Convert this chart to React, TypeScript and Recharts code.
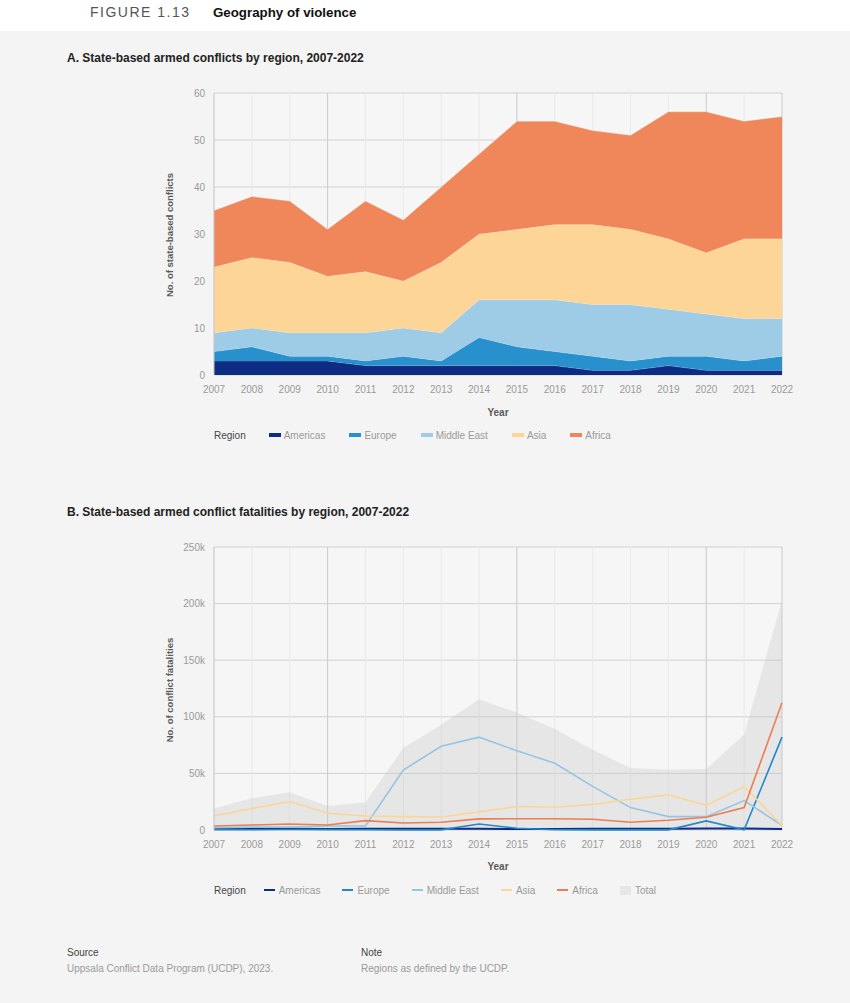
import React from 'react';
import { AreaChart, Area, ComposedChart, Line, XAxis, YAxis, CartesianGrid } from 'recharts';

const FONT = '"Liberation Sans", Arial, Helvetica, sans-serif';

// ---------- Data ----------
const years = ['2007','2008','2009','2010','2011','2012','2013','2014','2015','2016','2017','2018','2019','2020','2021','2022'];

// Panel A: number of state-based conflicts
const americasA = [3,3,3,3,2,2,2,2,2,2,1,1,2,1,1,1];
const europeA = [2,3,1,1,1,2,1,6,4,3,3,2,2,3,2,3];
const middleEastA = [4,4,5,5,6,6,6,8,10,11,11,12,10,9,9,8];
const asiaA = [14,15,15,12,13,10,15,14,15,16,17,16,15,13,17,17];
const africaA = [12,13,13,10,15,13,16,17,23,22,20,20,27,30,25,26];
const ticksA = [0,10,20,30,40,50,60];

// Panel B: fatalities
const americasB = [1200,1100,1000,900,1000,1100,1000,1000,900,900,1000,1100,1200,1300,1400,900];
const europeB = [300,200,500,300,200,0,100,5300,1500,200,100,100,100,8000,100,82000];
const middleEastB = [2000,2500,2700,3600,3600,53000,74000,82000,70000,59000,38500,19800,11800,11800,26000,4100];
const asiaB = [12400,19000,25100,14800,12400,11800,11500,16000,20700,20100,22500,27200,31000,21900,38200,4100];
const africaB = [3600,4400,5300,4400,8300,6200,6800,9800,10000,10000,9500,6800,8600,11200,19800,112400];
const totalB = [19000,28000,33400,21300,24300,72500,93000,115400,103600,89300,71000,54700,53300,53800,84300,202700];
const ticksB = [0,50000,100000,150000,200000,250000];

const regionNames = ['Americas','Europe','Middle East','Asia','Africa'];
const areaColors = ['#0d2c84','#2790cd','#9ecce6','#fdd597','#f0875a'];
const lineColors = ['#0d2c84','#2288c8','#94c6e4','#fcd597','#ee7d4f'];
const totalColor = '#c6c6c6';

const seriesA = [americasA, europeA, middleEastA, asiaA, africaA];
const seriesB = [americasB, europeB, middleEastB, asiaB, africaB];
const keys = ['americas','europe','middleEast','asia','africa'];

const dataA = years.map((y, i) => {
  const row: any = { year: y };
  keys.forEach((k, j) => { row[k] = seriesA[j][i]; });
  return row;
});
const dataB = years.map((y, i) => {
  const row: any = { year: y, total: totalB[i] };
  keys.forEach((k, j) => { row[k] = seriesB[j][i]; });
  return row;
});

const majorYears = ['2010','2015','2020'];
const tickStyle = { fill: '#9a9a9a', fontSize: 10, fontFamily: FONT };

const verticalGrid = (p: any) => {
  const yr = years[p.index];
  const major = majorYears.includes(yr) || yr === '2022';
  return (
    <line
      key={p.key}
      x1={p.x1} y1={p.y1} x2={p.x2} y2={p.y2}
      stroke={major ? '#cacaca' : '#e9e9e9'}
      strokeWidth={1}
    />
  );
};

const YTitle = ({ text, cy }: { text: string; cy: number }) => (
  <div style={{
    position: 'absolute', left: 169, top: cy, transform: 'translate(-50%,-50%) rotate(-90deg)',
    whiteSpace: 'nowrap', fontSize: 9.5, fontWeight: 'bold', color: '#5a5a5a', fontFamily: FONT,
  }}>{text}</div>
);

const XTitle = ({ cy }: { cy: number }) => (
  <div style={{
    position: 'absolute', left: 498, top: cy, transform: 'translate(-50%,-50%)',
    fontSize: 10, fontWeight: 'bold', color: '#5a5a5a', fontFamily: FONT,
  }}>Year</div>
);

const LegendRow = ({ top, kind }: { top: number; kind: 'area' | 'line' }) => {
  const gap = kind === 'area' ? 24 : 22;
  const items = regionNames.map((n, i) => ({ name: n, color: kind === 'area' ? areaColors[i] : lineColors[i], type: kind as string }));
  if (kind === 'line') items.push({ name: 'Total', color: '#e6e6e6', type: 'square' });
  return (
    <div style={{
      position: 'absolute', left: 214, top, display: 'flex', alignItems: 'center',
      fontSize: 10, fontFamily: FONT, color: '#9a9a9a', height: 12,
    }}>
      <span style={{ color: '#444', marginRight: kind === 'area' ? 23 : 18 }}>Region</span>
      {items.map((it, i) => (
        <span key={it.name} style={{ display: 'flex', alignItems: 'center', marginRight: i < items.length - 1 ? gap : 0 }}>
          <span style={{
            display: 'inline-block',
            width: it.type === 'square' ? 11 : (kind === 'area' ? 12 : 11),
            height: it.type === 'square' ? 9 : (kind === 'area' ? 4 : 2),
            background: it.color,
            marginRight: kind === 'area' ? 3 : 4,
          }} />
          <span>{it.name}</span>
        </span>
      ))}
    </div>
  );
};

export default function App() {
  return (
    <div style={{ position: 'relative', width: 850, height: 1003, background: '#f4f4f4', fontFamily: FONT, overflow: 'hidden' }}>
      <style>{`body{margin:0;}`}</style>
      {/* header */}
      <div style={{ position: 'absolute', left: 0, top: 0, width: 850, height: 31, background: '#ffffff' }} />
      <div style={{ position: 'absolute', left: 90, top: 12, transform: 'translateY(-50%)', fontSize: 14, letterSpacing: 1.5, color: '#555', whiteSpace: 'nowrap' }}>FIGURE 1.13</div>
      <div style={{ position: 'absolute', left: 213, top: 12, transform: 'translateY(-50%)', fontSize: 13.3, fontWeight: 'bold', color: '#111', whiteSpace: 'nowrap' }}>Geography of violence</div>

      {/* Panel A */}
      <div style={{ position: 'absolute', left: 67, top: 58, transform: 'translateY(-50%)', fontSize: 12, fontWeight: 'bold', color: '#222', whiteSpace: 'nowrap' }}>A. State-based armed conflicts by region, 2007-2022</div>
      <div style={{ position: 'absolute', left: 0, top: 80 }}>
        <AreaChart width={850} height={340} data={dataA} margin={{ top: 13, right: 68, bottom: 15, left: 164 }}>
          <CartesianGrid stroke="#d2d2d2" fill="#f6f6f6" vertical={verticalGrid} />
          <XAxis dataKey="year" interval={0} tickLine={false} axisLine={false} tick={tickStyle} height={30} tickMargin={5} />
          <YAxis domain={[0, 60]} ticks={ticksA} width={50} tickLine={false} axisLine={{ stroke: '#c6c6c6' }} tick={tickStyle} tickMargin={3} />
          {keys.map((k, j) => (
            <Area key={k} dataKey={k} stackId="a" type="linear" fill={areaColors[j]} fillOpacity={1}
              stroke="#ffffff" strokeWidth={0.6} strokeOpacity={0.5} isAnimationActive={false} />
          ))}
        </AreaChart>
      </div>
      <YTitle text="No. of state-based conflicts" cy={235} />
      <XTitle cy={412} />
      <LegendRow top={429} kind="area" />

      {/* Panel B */}
      <div style={{ position: 'absolute', left: 67, top: 512, transform: 'translateY(-50%)', fontSize: 12, fontWeight: 'bold', color: '#222', whiteSpace: 'nowrap' }}>B. State-based armed conflict fatalities by region, 2007-2022</div>
      <div style={{ position: 'absolute', left: 0, top: 534 }}>
        <ComposedChart width={850} height={341} data={dataB} margin={{ top: 13, right: 68, bottom: 15, left: 164 }}>
          <CartesianGrid stroke="#d2d2d2" fill="#f6f6f6" vertical={verticalGrid} />
          <XAxis dataKey="year" interval={0} tickLine={false} axisLine={false} tick={tickStyle} height={30} tickMargin={5} />
          <YAxis domain={[0, 250000]} ticks={ticksB} width={50} tickLine={false} axisLine={{ stroke: '#c6c6c6' }} tick={tickStyle} tickMargin={3}
            tickFormatter={(v: number) => (v === 0 ? '0' : `${v / 1000}k`)} />
          <Area dataKey="total" type="linear" fill={totalColor} fillOpacity={0.33} stroke="none" isAnimationActive={false} />
          {keys.map((k, j) => (
            <Line key={k} dataKey={k} type="linear" stroke={lineColors[j]} strokeWidth={j === 0 ? 2 : 1.6} dot={false} isAnimationActive={false} />
          ))}
        </ComposedChart>
      </div>
      <YTitle text="No. of conflict fatalities" cy={690} />
      <XTitle cy={866} />
      <LegendRow top={884} kind="line" />

      {/* footer */}
      <div style={{ position: 'absolute', left: 67, top: 952, transform: 'translateY(-50%)', fontSize: 10, color: '#444' }}>Source</div>
      <div style={{ position: 'absolute', left: 67, top: 968, transform: 'translateY(-50%)', fontSize: 10, color: '#9a9a9a' }}>Uppsala Conflict Data Program (UCDP), 2023.</div>
      <div style={{ position: 'absolute', left: 361, top: 952, transform: 'translateY(-50%)', fontSize: 10, color: '#444' }}>Note</div>
      <div style={{ position: 'absolute', left: 361, top: 968, transform: 'translateY(-50%)', fontSize: 10, color: '#9a9a9a' }}>Regions as defined by the UCDP.</div>
    </div>
  );
}
